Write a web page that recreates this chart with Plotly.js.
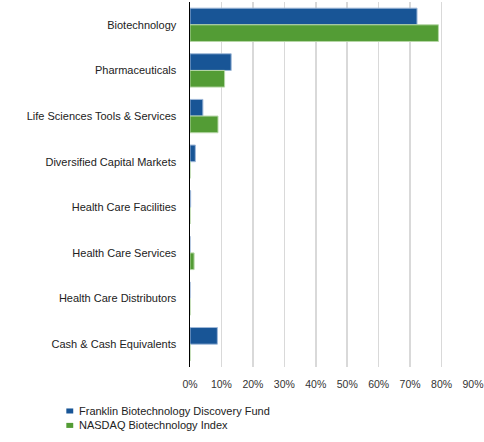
<!DOCTYPE html>
<html><head><meta charset="utf-8">
<script src="https://cdn.plot.ly/plotly-3.0.1.min.js"></script>
<style>body{margin:0;background:#fff}#c{width:484px;height:442px}</style>
</head><body><div id="c"></div>
<script>
var categories = ["Biotechnology","Pharmaceuticals","Life Sciences Tools & Services","Diversified Capital Markets","Health Care Facilities","Health Care Services","Health Care Distributors","Cash & Cash Equivalents"];
var seriesNames = ["Franklin Biotechnology Discovery Fund", "NASDAQ Biotechnology Index"];
var fundValues = [72.2, 13.1, 4.1, 1.7, 0.2, 0, 0, 8.7];
var indexValues = [79.0, 11.0, 8.9, 0, 0, 1.3, 0, 0];
var tickVals = [0,10,20,30,40,50,60,70,80,90];
var tickText = ["0%","10%","20%","30%","40%","50%","60%","70%","80%","90%"];

var colors = ["#185596", "#539C35"];
var lineColors = ["#9fb8d8", "#b5d6a6"];
var fam = "Liberation Sans, Arial, sans-serif";
var seriesValues = [fundValues, indexValues];
var data = seriesValues.map(function(v, i){
  return {type:"bar", orientation:"h", name:seriesNames[i], y:categories, x:v, showlegend:false,
          marker:{color:colors[i], line:{color:lineColors[i], width:1}}};
});

// custom legend (small squares + text) in paper coordinates
var legendY = [-0.1205, -0.16];
var shapes = [], annotations = [];
seriesNames.forEach(function(n, i){
  shapes.push({type:"rect", xref:"paper", yref:"paper", x0:-0.437, x1:-0.4126,
               y0:legendY[i]-0.0069, y1:legendY[i]+0.0069, fillcolor:colors[i], line:{width:0}});
  annotations.push({xref:"paper", yref:"paper", x:-0.398, y:legendY[i], xanchor:"left", yanchor:"middle",
                    text:n, showarrow:false, font:{family:fam, size:11, color:"#222"}});
});

var layout = {
  width:484, height:442,
  margin:{l:189.5, r:10.5, t:1.7, b:75.2},
  paper_bgcolor:"#fff", plot_bgcolor:"#fff",
  font:{family:fam, size:11, color:"#222"},
  barmode:"group", bargap:0.27, bargroupgap:0,
  showlegend:false,
  shapes:shapes, annotations:annotations,
  xaxis:{range:[0,90], tickvals:tickVals, ticktext:tickText, showgrid:true, gridcolor:"#d9d9d9", gridwidth:1.5,
         zeroline:false, showline:false, ticks:"", ticklabelstandoff:9, ticklabeloverflow:"allow",
         automargin:false, tickfont:{family:fam, size:10.5, color:"#333"}, fixedrange:true},
  yaxis:{type:"category", autorange:"reversed", showline:true, linecolor:"#000", linewidth:1.5,
         ticks:"", showgrid:false, zeroline:false, ticklabelstandoff:10, automargin:false,
         tickfont:{family:fam, size:11, color:"#222"}}
};
Plotly.newPlot("c", data, layout, {displayModeBar:false, staticPlot:true});
</script></body></html>
